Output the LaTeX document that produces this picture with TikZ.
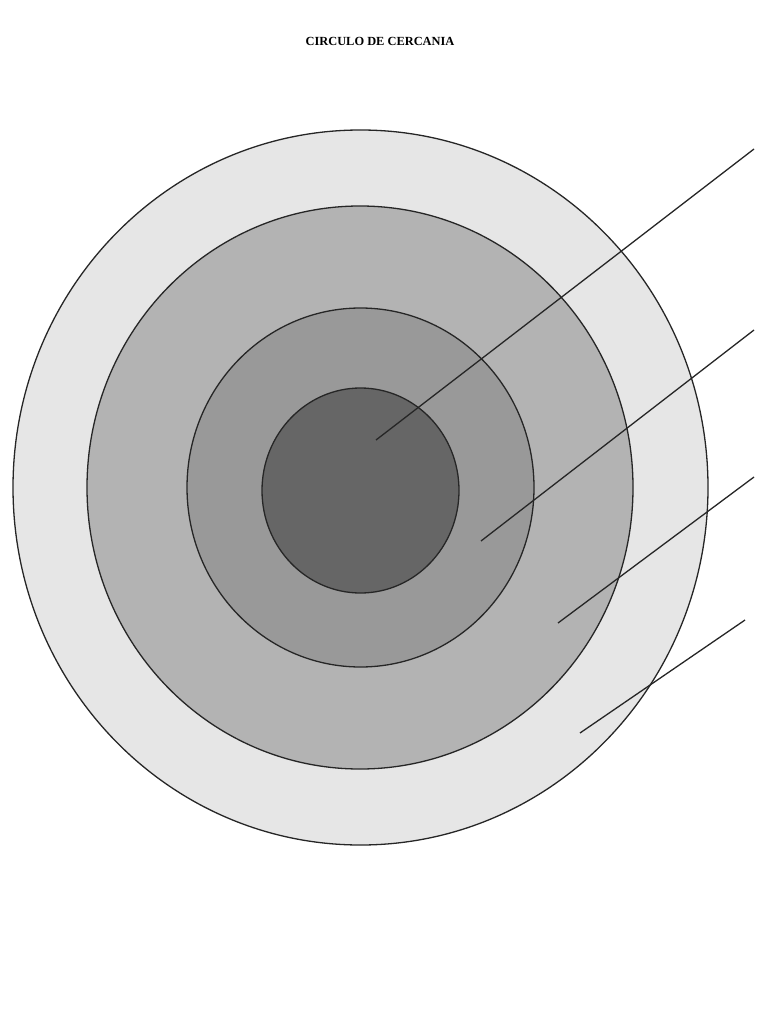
\documentclass[tikz,border=0pt]{standalone}
\usepackage{fontspec}
\setmainfont{Liberation Serif}
\usetikzlibrary{shapes.geometric}
\definecolor{ringA}{HTML}{E6E6E6}
\definecolor{ringB}{HTML}{B3B3B3}
\definecolor{ringC}{HTML}{999999}
\definecolor{ringD}{HTML}{666666}
\tikzset{
  ring/.style={ellipse, draw=black!85, line width=1.3pt, inner sep=0pt},
  pointer/.style={draw=black!85, line width=1.3pt},
}
\begin{document}
\begin{tikzpicture}[x=1pt,y=-1pt]
\useasboundingbox (0,0) rectangle (768,1024);
\node[font=\bfseries\fontsize{12.4}{14}\selectfont] (title) at (380,41) {CIRCULO DE CERCANIA};
\node[ring, fill=ringA, minimum width=695pt, minimum height=715pt] (r1) at (360.5,487.5) {};
\node[ring, fill=ringB, minimum width=546pt, minimum height=563pt] (r2) at (360,487.5) {};
\node[ring, fill=ringC, minimum width=347pt, minimum height=359pt] (r3) at (360.5,487.5) {};
\node[ring, fill=ringD, minimum width=197pt, minimum height=205pt] (r4) at (360.5,490.5) {};
\coordinate (a1) at (376,440);  \coordinate (b1) at (754,149);
\coordinate (a2) at (481,541);  \coordinate (b2) at (754,330);
\coordinate (a3) at (558,623);  \coordinate (b3) at (754,477);
\coordinate (a4) at (580,733);  \coordinate (b4) at (745,620);
\draw[pointer] (a1) -- (b1);
\draw[pointer] (a2) -- (b2);
\draw[pointer] (a3) -- (b3);
\draw[pointer] (a4) -- (b4);
\end{tikzpicture}
\end{document}
